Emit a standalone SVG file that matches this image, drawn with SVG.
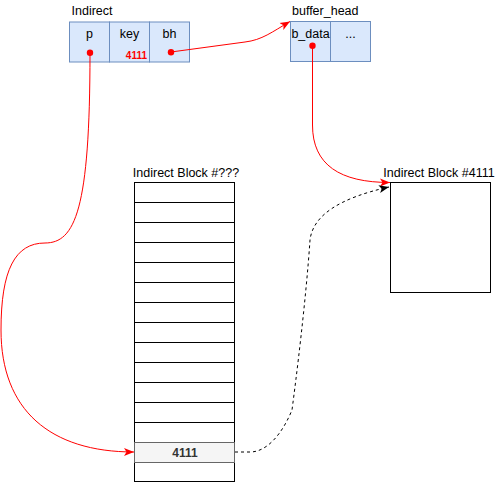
<svg xmlns="http://www.w3.org/2000/svg" width="501" height="482" viewBox="0 0 501 482">
<style>
text{font-family:"Liberation Sans",Arial,sans-serif;font-size:12.5px;fill:#000}
.c{text-anchor:middle}
.struct{fill:#dae8fc;stroke:#6c8ebf;stroke-width:1}
.row{fill:#fff;stroke:#000;stroke-width:1}
.hl{fill:#f5f5f5;stroke:#666;stroke-width:1}
.red{fill:none;stroke:#ff0000;stroke-width:1}
.dash{fill:none;stroke:#000;stroke-width:1;stroke-dasharray:3 3}
.dot{fill:#ff0000}
</style>
<defs>
<marker id="ar" markerUnits="userSpaceOnUse" markerWidth="12" markerHeight="10" viewBox="0 0 12 10" refX="10" refY="5" orient="auto">
<path d="M0,1 L10,5 L0,9 L2.5,5 z" fill="#ff0000"/>
</marker>
<marker id="ab" markerUnits="userSpaceOnUse" markerWidth="12" markerHeight="10" viewBox="0 0 12 10" refX="10" refY="5" orient="auto">
<path d="M0,1 L10,5 L0,9 L2.5,5 z" fill="#000"/>
</marker>
</defs>

<g id="indirect">
<text x="71.5" y="15">Indirect</text>
<rect class="struct" x="69.5" y="22" width="40" height="40"/>
<rect class="struct" x="109.5" y="22" width="40" height="40"/>
<rect class="struct" x="149.5" y="22" width="40" height="40"/>
<text class="c" x="89.5" y="38">p</text>
<text class="c" x="129.5" y="38">key</text>
<text class="c" x="169.5" y="38">bh</text>
<text x="147" y="58.5" style="font-size:10px;font-weight:bold;fill:#ff0000;text-anchor:end">4111</text>
</g>

<g id="buffer_head">
<text x="292" y="15">buffer_head</text>
<rect class="struct" x="290.5" y="21.5" width="40" height="40"/>
<rect class="struct" x="330.5" y="21.5" width="40" height="40"/>
<text class="c" x="310.5" y="38">b_data</text>
<text class="c" x="350.5" y="38">...</text>
</g>

<g id="block_unknown">
<text class="c" x="186" y="176.5">Indirect Block #???</text>
<rect class="row" x="134.5" y="182.5" width="100" height="20"/>
<rect class="row" x="134.5" y="202.5" width="100" height="20"/>
<rect class="row" x="134.5" y="222.5" width="100" height="20"/>
<rect class="row" x="134.5" y="242.5" width="100" height="20"/>
<rect class="row" x="134.5" y="262.5" width="100" height="20"/>
<rect class="row" x="134.5" y="282.5" width="100" height="20"/>
<rect class="row" x="134.5" y="302.5" width="100" height="20"/>
<rect class="row" x="134.5" y="322.5" width="100" height="20"/>
<rect class="row" x="134.5" y="342.5" width="100" height="20"/>
<rect class="row" x="134.5" y="362.5" width="100" height="20"/>
<rect class="row" x="134.5" y="382.5" width="100" height="20"/>
<rect class="row" x="134.5" y="402.5" width="100" height="20"/>
<rect class="row" x="134.5" y="422.5" width="100" height="20"/>
<rect class="row" x="134.5" y="462.5" width="100" height="19"/>
<rect class="hl" x="134.5" y="442.5" width="100" height="20"/>
<text class="c" x="185" y="457" style="font-size:12px;font-weight:bold;fill:#333">4111</text>
</g>

<g id="block_4111">
<text class="c" x="439" y="176.5">Indirect Block #4111</text>
<rect class="row" x="390.5" y="182.5" width="100" height="110"/>
</g>

<g id="connectors">
<path class="red" d="M90,53 C90,210 75,243 45,243 C15,243 1,270 1,330 C1,410 50,452 134,452" marker-end="url(#ar)"/>
<path class="red" d="M171,52 L245,42 C262,40 272,32 290,21.5" marker-end="url(#ar)"/>
<path class="red" d="M312.5,46 L312.5,125 C312.5,165 340,182.5 390,182.5" marker-end="url(#ar)"/>
<path class="dash" d="M235,452 L250,452 C268,452 283,432 292,410 C296,380 306,300 310,240 C313,215 340,198 389,187" marker-end="url(#ab)"/>
<circle class="dot" cx="90" cy="52.7" r="3.2"/>
<circle class="dot" cx="171" cy="52.3" r="3.2"/>
<circle class="dot" cx="312.5" cy="45.8" r="3.2"/>
</g>
</svg>
